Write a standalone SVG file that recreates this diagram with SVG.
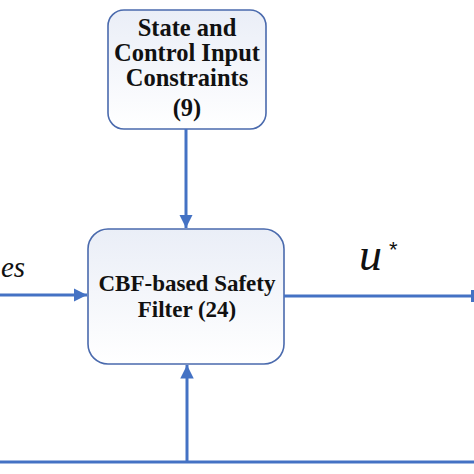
<svg xmlns="http://www.w3.org/2000/svg" width="474" height="474" viewBox="0 0 474 474">
<defs>
<linearGradient id="g" x1="0" y1="0" x2="0" y2="1">
<stop offset="0" stop-color="#eaeef7"/>
<stop offset="1" stop-color="#ffffff"/>
</linearGradient>
<marker id="ah" viewBox="0 0 10 10" refX="10" refY="5" markerWidth="4.5" markerHeight="4.5" orient="auto" markerUnits="strokeWidth">
<path d="M0,0 L10,5 L0,10 z" fill="#4472C4"/>
</marker>
<style>
.box{fill:url(#g);stroke:#4a6aad;stroke-width:1.6}
.lbl{font-family:"Liberation Serif","Times New Roman",serif;font-weight:bold;fill:#111;text-anchor:middle}
.con{stroke:#4472C4;stroke-width:3;fill:none}
.math{font-family:"Liberation Serif","Times New Roman",serif;font-style:italic;fill:#111}
</style>
</defs>
<rect width="474" height="474" fill="#fff"/>
<g id="constraints">
<rect class="box" x="108" y="10" width="158" height="119" rx="16"/>
<text class="lbl" font-size="24.5"><tspan x="187" y="36">State and</tspan><tspan x="187" y="61">Control Input</tspan><tspan x="187" y="86">Constraints</tspan><tspan x="187" y="116">(9)</tspan></text>
</g>
<g id="filter">
<rect class="box" x="88" y="229" width="196" height="135" rx="20"/>
<text class="lbl" font-size="23"><tspan x="187" y="291">CBF-based Safety</tspan><tspan x="187" y="317">Filter (24)</tspan></text>
</g>
<g id="connectors">
<line class="con" x1="186" y1="129" x2="186" y2="228" marker-end="url(#ah)"/>
<line class="con" x1="0" y1="295" x2="87" y2="295" marker-end="url(#ah)"/>
<line class="con" x1="284" y1="296" x2="474" y2="296"/>
<line x1="472.5" y1="290" x2="472.5" y2="302" stroke="#4472C4" stroke-width="3"/>
<line class="con" x1="0" y1="462" x2="474" y2="462"/>
<line class="con" x1="187" y1="462" x2="187" y2="365" marker-end="url(#ah)"/>
</g>
<text class="math" x="1" y="277" font-size="29">es</text>
<text class="math" x="359" y="270" font-size="46">u</text>
<text x="389" y="257" font-family="Liberation Sans,Arial,sans-serif" font-size="22" fill="#111">*</text>
</svg>
